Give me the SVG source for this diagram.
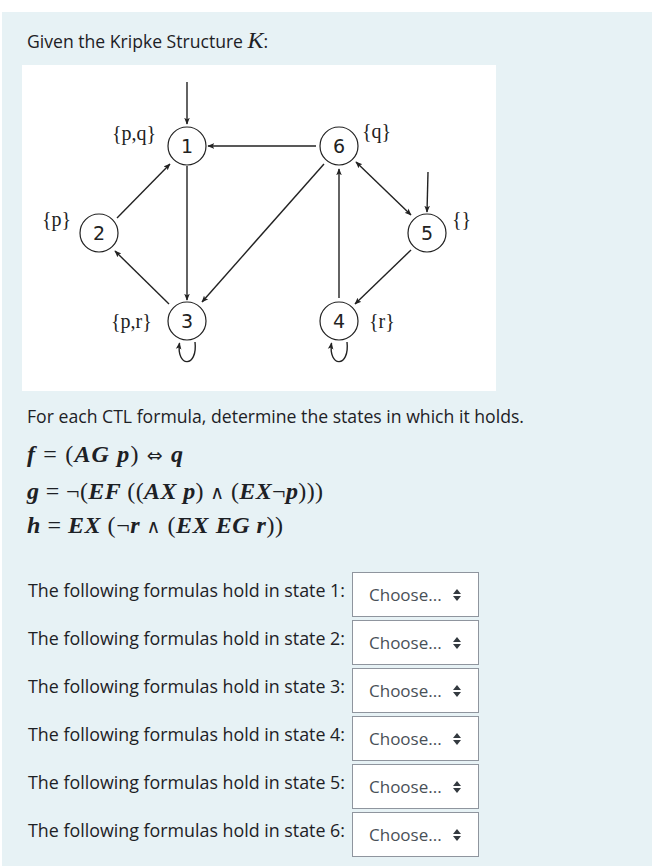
<svg xmlns="http://www.w3.org/2000/svg" width="652" height="866" viewBox="0 0 652 866">
<style>
.txt{font-family:"Open Sans","Noto Sans",sans-serif;font-size:17.6px;fill:#1d2125}
.math{font-family:"Liberation Serif","DejaVu Serif",serif;font-size:24px;fill:#1d2125}
.mi{font-style:italic;font-weight:bold}
.op{font-family:"DejaVu Sans",sans-serif;font-size:19px}
.node circle{fill:#fff;stroke:#222;stroke-width:1.2}
.node text.n{font-family:"DejaVu Sans","Liberation Sans",sans-serif;font-size:19px;fill:#222;text-anchor:middle}
.lab{font-family:"Liberation Serif","DejaVu Serif",serif;font-size:20px;fill:#222}
.edge{stroke:#222;stroke-width:1.4;fill:none;marker-end:url(#ah)}
.box rect{fill:#fff;stroke:#8f959e;stroke-width:1}
.box text{font-family:"Open Sans","Noto Sans",sans-serif;font-size:17px;fill:#495057}
</style>
<defs>
<marker id="ah" viewBox="0 0 10 10" refX="9" refY="5" markerWidth="7" markerHeight="7" orient="auto-start-reverse" markerUnits="userSpaceOnUse">
<path d="M0,1 L10,5 L0,9 L2.5,5 z" fill="#222"/>
</marker>
<g id="updown"><path d="M-4,-1 L0,-6 L4,-1 z M-4,1 L0,6 L4,1 z" fill="#343a40"/></g>
</defs>
<rect x="0" y="0" width="652" height="866" fill="#fff"/>
<rect x="2" y="12" width="650" height="854" fill="#e7f2f5"/>
<text class="txt" x="27" y="48"><tspan textLength="216" lengthAdjust="spacingAndGlyphs">Given the Kripke Structure</tspan> <tspan class="math" font-style="italic" font-size="23">K</tspan>:</text>
<rect x="22" y="65" width="474" height="326" fill="#fff"/>
<g id="connectors">
<line class="edge" x1="187" y1="82" x2="187" y2="124"/>
<line class="edge" x1="428" y1="172" x2="427" y2="212"/>
<line class="edge" x1="316" y1="146" x2="208" y2="146"/>
<line class="edge" x1="187" y1="166" x2="187" y2="300"/>
<line class="edge" x1="117" y1="218" x2="170" y2="164"/>
<line class="edge" x1="169" y1="304" x2="115" y2="251"/>
<line class="edge" x1="324" y1="164" x2="202" y2="302"/>
<line class="edge" x1="339" y1="298" x2="339" y2="169"/>
<line class="edge" x1="356" y1="162" x2="411" y2="215" style="marker-start:url(#ah)"/>
<line class="edge" x1="411" y1="250" x2="355" y2="304"/>
<path class="edge" d="M195,342 C198,368 176,368 179.5,343"/>
<path class="edge" d="M347,342 C350,368 328,368 331.5,343"/>
</g>
<g id="node1" class="node"><circle cx="187" cy="146" r="19"/><text class="n" x="187" y="153">1</text><text class="lab" x="112" y="140">{p,q}</text></g>
<g id="node2" class="node"><circle cx="99" cy="233" r="19"/><text class="n" x="99" y="240">2</text><text class="lab" x="42" y="226">{p}</text></g>
<g id="node3" class="node"><circle cx="187" cy="321" r="19"/><text class="n" x="187" y="328">3</text><text class="lab" x="111" y="328">{p,r}</text></g>
<g id="node4" class="node"><circle cx="339" cy="321" r="19"/><text class="n" x="339" y="328">4</text><text class="lab" x="369" y="328">{r}</text></g>
<g id="node5" class="node"><circle cx="427" cy="233" r="19"/><text class="n" x="427" y="240">5</text><text class="lab" x="452" y="226">{}</text></g>
<g id="node6" class="node"><circle cx="339" cy="146" r="19"/><text class="n" x="339" y="153">6</text><text class="lab" x="362" y="138">{q}</text></g>
<text class="txt" x="27" y="423" textLength="497" lengthAdjust="spacingAndGlyphs">For each CTL formula, determine the states in which it holds.</text>
<text class="math" x="27" y="462" textLength="156" lengthAdjust="spacing"><tspan class="mi">f</tspan> = (<tspan class="mi">AG p</tspan>) <tspan class="op" font-size="23">⇔</tspan> <tspan class="mi">q</tspan></text>
<text class="math" x="27" y="499" textLength="296" lengthAdjust="spacing"><tspan class="mi">g</tspan> = ¬(<tspan class="mi">EF</tspan> ((<tspan class="mi">AX p</tspan>) <tspan class="op">∧</tspan> (<tspan class="mi">EX</tspan>¬<tspan class="mi">p</tspan>)))</text>
<text class="math" x="27" y="533" textLength="256" lengthAdjust="spacing"><tspan class="mi">h</tspan> = <tspan class="mi">EX</tspan> (¬<tspan class="mi">r</tspan> <tspan class="op">∧</tspan> (<tspan class="mi">EX EG r</tspan>))</text>
<text class="txt" x="28" y="597" textLength="317" lengthAdjust="spacingAndGlyphs">The following formulas hold in state 1:</text>
<text class="txt" x="28" y="645" textLength="317" lengthAdjust="spacingAndGlyphs">The following formulas hold in state 2:</text>
<text class="txt" x="28" y="693" textLength="317" lengthAdjust="spacingAndGlyphs">The following formulas hold in state 3:</text>
<text class="txt" x="28" y="741" textLength="317" lengthAdjust="spacingAndGlyphs">The following formulas hold in state 4:</text>
<text class="txt" x="28" y="789" textLength="317" lengthAdjust="spacingAndGlyphs">The following formulas hold in state 5:</text>
<text class="txt" x="28" y="837" textLength="317" lengthAdjust="spacingAndGlyphs">The following formulas hold in state 6:</text>
<g class="box" id="sel1"><rect x="352.5" y="572.5" width="126" height="44"/><text x="369" y="601">Choose...</text><use href="#updown" x="457" y="595"/></g>
<g class="box" id="sel2"><rect x="352.5" y="620.5" width="126" height="44"/><text x="369" y="649">Choose...</text><use href="#updown" x="457" y="643"/></g>
<g class="box" id="sel3"><rect x="352.5" y="668.5" width="126" height="44"/><text x="369" y="697">Choose...</text><use href="#updown" x="457" y="691"/></g>
<g class="box" id="sel4"><rect x="352.5" y="716.5" width="126" height="44"/><text x="369" y="745">Choose...</text><use href="#updown" x="457" y="739"/></g>
<g class="box" id="sel5"><rect x="352.5" y="764.5" width="126" height="44"/><text x="369" y="793">Choose...</text><use href="#updown" x="457" y="787"/></g>
<g class="box" id="sel6"><rect x="352.5" y="812.5" width="126" height="44"/><text x="369" y="841">Choose...</text><use href="#updown" x="457" y="835"/></g>
</svg>
